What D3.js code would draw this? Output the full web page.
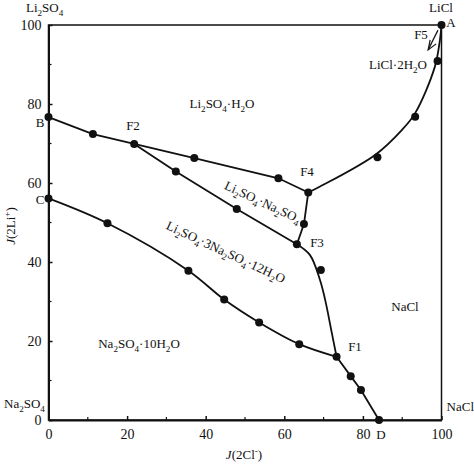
<!DOCTYPE html>
<html>
<head>
<meta charset="utf-8">
<script src="https://cdn.jsdelivr.net/npm/d3@7"></script>
<style>
body { margin: 0; background: #fff; }
svg text { font-family: "Liberation Serif", "Times New Roman", serif; fill: #111; }
</style>
</head>
<body>
<script>
// phase boundary lines, [J(2Cl-), J(2Li+)]
let lineBF2 = [[0, 76.7], [11.3, 72.4], [21.8, 69.9]];
let lineF2F4 = [[21.8, 69.9], [37.1, 66.3], [58.5, 61.2], [66.1, 57.6]];
let lineF2F3 = [[21.8, 69.9], [32.4, 62.9], [47.9, 53.4], [63.2, 44.5]];
let lineF3F4 = [[63.2, 44.5], [65.0, 49.6], [66.1, 57.6]];
let lineCF1 = [[0, 56.1], [15.0, 49.8], [35.6, 37.8], [44.7, 30.5], [53.6, 24.7], [63.8, 19.2], [73.3, 16.0]];
let lineF1D = [[73.3, 16.0], [76.9, 11.1], [79.5, 7.6], [84.1, 0]];
let curveF3F1 = [[63.2, 44.5], [66.5, 41.8], [69.1, 35.4], [70.4, 30.4], [72.1, 22], [73.3, 16.0]];
let curveF4A = [[66.1, 57.6], [69.1, 59.1], [83.1, 67.1], [89.9, 73.4], [93.3, 77.7], [98.3, 89.4], [99.6, 96.2], [100, 100]];

// measured points
let points = [
    [0, 76.7], [11.3, 72.4], [21.8, 69.9], [37.1, 66.3], [58.5, 61.2], [66.1, 57.6],
    [32.4, 62.9], [47.9, 53.4], [63.2, 44.5], [65.0, 49.6], [69.3, 38.0],
    [0, 56.1], [15.0, 49.8], [35.6, 37.8], [44.7, 30.5], [53.6, 24.7], [63.8, 19.2], [73.3, 16.0],
    [76.9, 11.1], [79.5, 7.6], [84.1, 0],
    [83.7, 66.5], [93.3, 76.8], [99.0, 90.9], [100, 100]
];

let xTicks = [0, 20, 40, 60, 80, 100];
let yTicks = [0, 20, 40, 60, 80, 100];
let minorTicks = [10, 30, 50, 70, 90];

// F5 arrow near A (from, to)
let arrowF5 = [[99.1, 98.7], [96.6, 93.7]];

let margin = {top: 25, right: 32.5, bottom: 44, left: 48.5},
    width = 474 - margin.left - margin.right,
    height = 464 - margin.top - margin.bottom;

let svg = d3.select('body').append('svg')
    .attr('width', 474)
    .attr('height', 464);

let g = svg.append('g')
    .attr('transform', 'translate(' + margin.left + ',' + margin.top + ')');

let x = d3.scaleLinear().domain([0, 100]).range([0, width]);
let y = d3.scaleLinear().domain([0, 100]).range([height, 0]);

// frame
g.append('rect')
    .attr('width', width).attr('height', height)
    .style('fill', 'none').style('stroke', '#111').style('stroke-width', 1.5);

let xAxis = g.append('g').attr('transform', 'translate(0,' + height + ')')
    .call(d3.axisBottom(x).tickValues(xTicks).tickSizeInner(-4).tickSizeOuter(0).tickPadding(9));
let yAxis = g.append('g')
    .call(d3.axisLeft(y).tickValues(yTicks).tickSizeInner(-4).tickSizeOuter(0).tickPadding(7));

[xAxis, yAxis].forEach(a => {
    a.select('.domain').style('stroke', '#111').style('stroke-width', 2);
    a.selectAll('.tick line').style('stroke', '#111').style('stroke-width', 1.5);
    a.selectAll('.tick text').style('font-family', '"Liberation Serif", serif')
        .style('font-size', '14px').style('fill', '#111');
});

g.selectAll('.xminor').data(minorTicks).enter().append('line')
    .attr('x1', d => x(d)).attr('x2', d => x(d))
    .attr('y1', height).attr('y2', height - 3)
    .style('stroke', '#111').style('stroke-width', 1.2);
g.selectAll('.yminor').data(minorTicks).enter().append('line')
    .attr('x1', 0).attr('x2', 3)
    .attr('y1', d => y(d)).attr('y2', d => y(d))
    .style('stroke', '#111').style('stroke-width', 1.2);

let straight = d3.line().x(d => x(d[0])).y(d => y(d[1]));
let smooth = d3.line().x(d => x(d[0])).y(d => y(d[1])).curve(d3.curveCatmullRom.alpha(0.5));

[[lineBF2, straight], [lineF2F4, straight], [lineF2F3, straight], [lineF3F4, straight],
 [lineCF1, smooth], [lineF1D, straight], [curveF3F1, smooth], [curveF4A, smooth]]
    .forEach(([data, gen]) => {
        g.append('path').attr('d', gen(data))
            .style('fill', 'none').style('stroke', '#111').style('stroke-width', 1.8);
    });

g.selectAll('.pt').data(points).enter().append('circle')
    .attr('cx', d => x(d[0])).attr('cy', d => y(d[1])).attr('r', 4)
    .style('fill', '#111');

// F5 arrow
g.append('path').attr('d', straight(arrowF5))
    .style('fill', 'none').style('stroke', '#111').style('stroke-width', 1.2);
let ax = x(arrowF5[1][0]), ay = y(arrowF5[1][1]);
g.append('path')
    .attr('d', 'M' + (ax + 2) + ',' + (ay - 10) + 'L' + ax + ',' + ay + 'L' + (ax + 8) + ',' + (ay - 6))
    .style('fill', 'none').style('stroke', '#111').style('stroke-width', 1.2);

// text with _sub, ^sup and *italic* markup
function richText(sel, str) {
    let parts = str.split(/([_^]\{[^}]*\}|[_^].|\*[^*]*\*)/).filter(s => s.length);
    let shift = 0;
    parts.forEach(p => {
        if (p[0] === '_' || p[0] === '^') {
            let txt = p[1] === '{' ? p.slice(2, -1) : p.slice(1);
            let dy = p[0] === '_' ? 3.5 : -5;
            sel.append('tspan').attr('dy', dy - shift).style('font-size', '0.7em').text(txt);
            shift = dy;
        } else if (p[0] === '*') {
            sel.append('tspan').attr('dy', -shift).style('font-style', 'italic').text(p.slice(1, -1));
            shift = 0;
        } else {
            sel.append('tspan').attr('dy', -shift).text(p);
            shift = 0;
        }
    });
}

let labels = [
    {t: 'Li_2SO_4', x: 26, y: 12, a: 'start'},
    {t: 'LiCl', x: 441, y: 12, a: 'middle'},
    {t: 'A', x: 451, y: 27, a: 'middle'},
    {t: 'F5', x: 421, y: 39, a: 'middle'},
    {t: 'LiCl·2H_2O', x: 398, y: 69, a: 'middle'},
    {t: 'Li_2SO_4·H_2O', x: 222, y: 108, a: 'middle'},
    {t: 'B', x: 40, y: 127, a: 'middle'},
    {t: 'F2', x: 133, y: 130, a: 'middle'},
    {t: 'F4', x: 307, y: 176, a: 'middle'},
    {t: 'C', x: 40, y: 204, a: 'middle'},
    {t: 'F3', x: 317, y: 247, a: 'middle'},
    {t: 'NaCl', x: 405, y: 311, a: 'middle'},
    {t: 'Na_2SO_4·10H_2O', x: 139, y: 348, a: 'middle'},
    {t: 'F1', x: 355, y: 351, a: 'middle'},
    {t: 'Na_2SO_4', x: 4, y: 408, a: 'start'},
    {t: 'NaCl', x: 474, y: 411, a: 'end'},
    {t: 'D', x: 381, y: 439, a: 'middle'}
];

labels.forEach(l => {
    let t = svg.append('text').attr('x', l.x).attr('y', l.y)
        .attr('text-anchor', l.a).style('font-size', '13px');
    richText(t, l.t);
});

let rotated = [
    {t: 'Li_2SO_4·Na_2SO_4', x: 261, y: 206, r: 25},
    {t: 'Li_2SO_4·3Na_2SO_4·12H_2O', x: 224, y: 256, r: 25}
];
rotated.forEach(l => {
    let t = svg.append('text').attr('text-anchor', 'middle')
        .attr('transform', 'translate(' + l.x + ',' + l.y + ') rotate(' + l.r + ')')
        .style('font-size', '13px');
    richText(t, l.t);
});

// axis titles
let xt = svg.append('text').attr('x', 244).attr('y', 459).attr('text-anchor', 'middle').style('font-size', '13px');
richText(xt, '*J*(2Cl^-)');
let yt = svg.append('text').attr('text-anchor', 'middle')
    .attr('transform', 'translate(15,226) rotate(-90)').style('font-size', '13px');
richText(yt, '*J*(2Li^+)');
</script>
</body>
</html>
